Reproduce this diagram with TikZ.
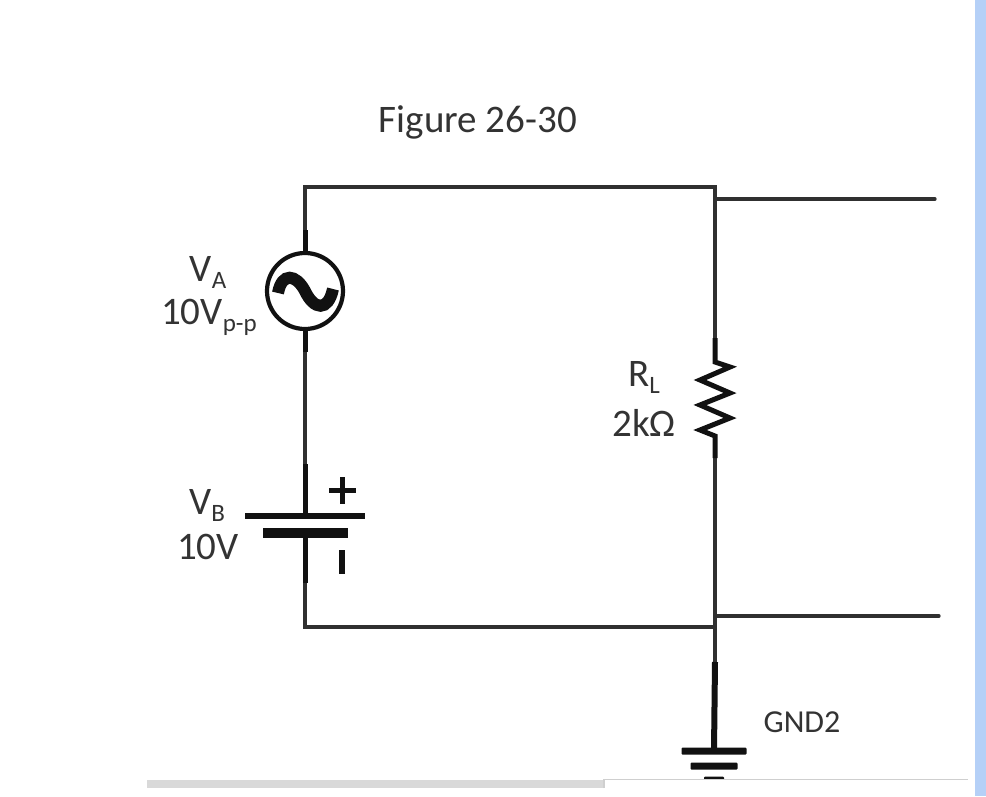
\documentclass[tikz,border=0pt]{standalone}
\usepackage{fontspec}
\setmainfont{Carlito}
\definecolor{ink}{HTML}{111111}
\definecolor{wirecol}{HTML}{303030}
\definecolor{txt}{HTML}{333333}
\definecolor{band}{HTML}{B5D0F7}
\definecolor{scroll}{HTML}{D9D9D9}
\definecolor{edge}{HTML}{CFCFCF}
\newcommand{\lowsub}[1]{\raisebox{-7pt}{\fontsize{25}{28}\selectfont #1}}
\tikzset{
  wire/.style={draw=wirecol,line width=3.2pt},
  lead/.style={draw=ink,line width=5pt},
  thickplate/.style={fill=ink,draw=none,inner sep=0pt,outer sep=0pt,minimum height=9.5pt,minimum width=85pt},
  thinplate/.style={fill=ink,draw=none,inner sep=0pt,outer sep=0pt,minimum height=5.5pt,minimum width=120pt},
  gndplate/.style={fill=ink,draw=none,rounded corners=1pt,inner sep=0pt,outer sep=0pt,minimum height=7pt},
  lab/.style={text=txt,inner sep=0pt,font=\fontsize{39}{42}\selectfont},
  smalllab/.style={text=txt,inner sep=0pt,font=\fontsize{32}{36}\selectfont}
}
\begin{document}
\begin{tikzpicture}[x=1pt,y=-1pt]
\useasboundingbox (0,0) rectangle (986,796);
\fill[white] (0,0) rectangle (986,796);
\fill[band] (975,0) rectangle (986,796);
% labels
\node[lab] (title) at (478,122) {Figure 26-30};
\node[lab] (va) at (208,272) {V\lowsub{A}};
\node[lab] (vpp) at (209,317) {10V\lowsub{p-p}};
\node[lab] (vb) at (207,505) {V\lowsub{B}};
\node[lab] (vbv) at (208,547) {10V};
\node[lab] (rl) at (644,377) {R\lowsub{L}};
\node[lab] (rv) at (644,423) {2kΩ};
\node[smalllab] (gnd) at (802,722) {GND2};
% junctions and corners
\coordinate (tl) at (305,187);
\coordinate (tj) at (715,187);
\coordinate (tout) at (935,199);
\coordinate (tjo) at (715,199);
\coordinate (bl) at (305,627);
\coordinate (bj) at (715,627);
\coordinate (bjo) at (715,616);
\coordinate (bout) at (939,616);
\coordinate (vs1) at (305,230);
\coordinate (vs2) at (305,352);
\coordinate (bt1) at (305,464);
\coordinate (bt2) at (305,583);
\coordinate (r1) at (715,338);
\coordinate (r2) at (715,458);
\coordinate (g1) at (715,662);
% source
\node[circle,draw=ink,line width=4.2pt,fill=white,minimum size=76pt,inner sep=0pt,outer sep=0pt] (src) at (305,291) {};
% battery
\node[thinplate] (bp) at (305,516) {};
\node[thickplate] (bn) at (305,533) {};
% ground
\node[gndplate,minimum width=65pt] (g2) at (714,751) {};
\node[gndplate,minimum width=47pt] (g3) at (714,766) {};
\node[gndplate,minimum width=20pt,minimum height=5pt] (g4) at (714,779) {};
% wires
\draw[wire,line cap=rect] (vs1) -- (tl) -- (tj) -- (r1);
\draw[wire,line cap=round] (tjo) -- (tout);
\draw[wire] (r2) -- (g1);
\draw[wire,line cap=round] (bjo) -- (bout);
\draw[wire,line cap=rect] (bt2) -- (bl) -- (bj);
\draw[wire] (vs2) -- (bt1);
\draw[lead] (vs1) -- (src.north);
\draw[lead] (src.south) -- (vs2);
\draw[lead] (bt1) -- (bp.center);
\draw[lead] (bn.center) -- (bt2);
\draw[lead,line width=6pt] (g1) -- (g2.center);
% resistor
\draw[lead,line join=miter] (r1) -- (715,362) -- (730,367) -- (700,380) -- (730,393) -- (700,405) -- (730,418) -- (700,430) -- (715,436) -- (r2);
% sine
\draw[draw=ink,line width=12pt] (278,293) .. controls (282,272) and (296,274) .. (305,291) .. controls (314,310) and (328,312) .. (333,289);
% plus and minus
\draw[draw=ink,line width=5pt] (329,490) -- (356,490);
\draw[draw=ink,line width=5pt] (342,477) -- (342,504);
\draw[draw=ink,line width=5.5pt] (342,550) -- (342,574);
% window edges
\fill[white] (600,779.5) rectangle (968,796);
\fill[scroll] (147,780) rectangle (604,788);
\draw[edge,line width=1.2pt] (604,788) -- (604,779.5) -- (968,779.5);
\end{tikzpicture}
\end{document}
